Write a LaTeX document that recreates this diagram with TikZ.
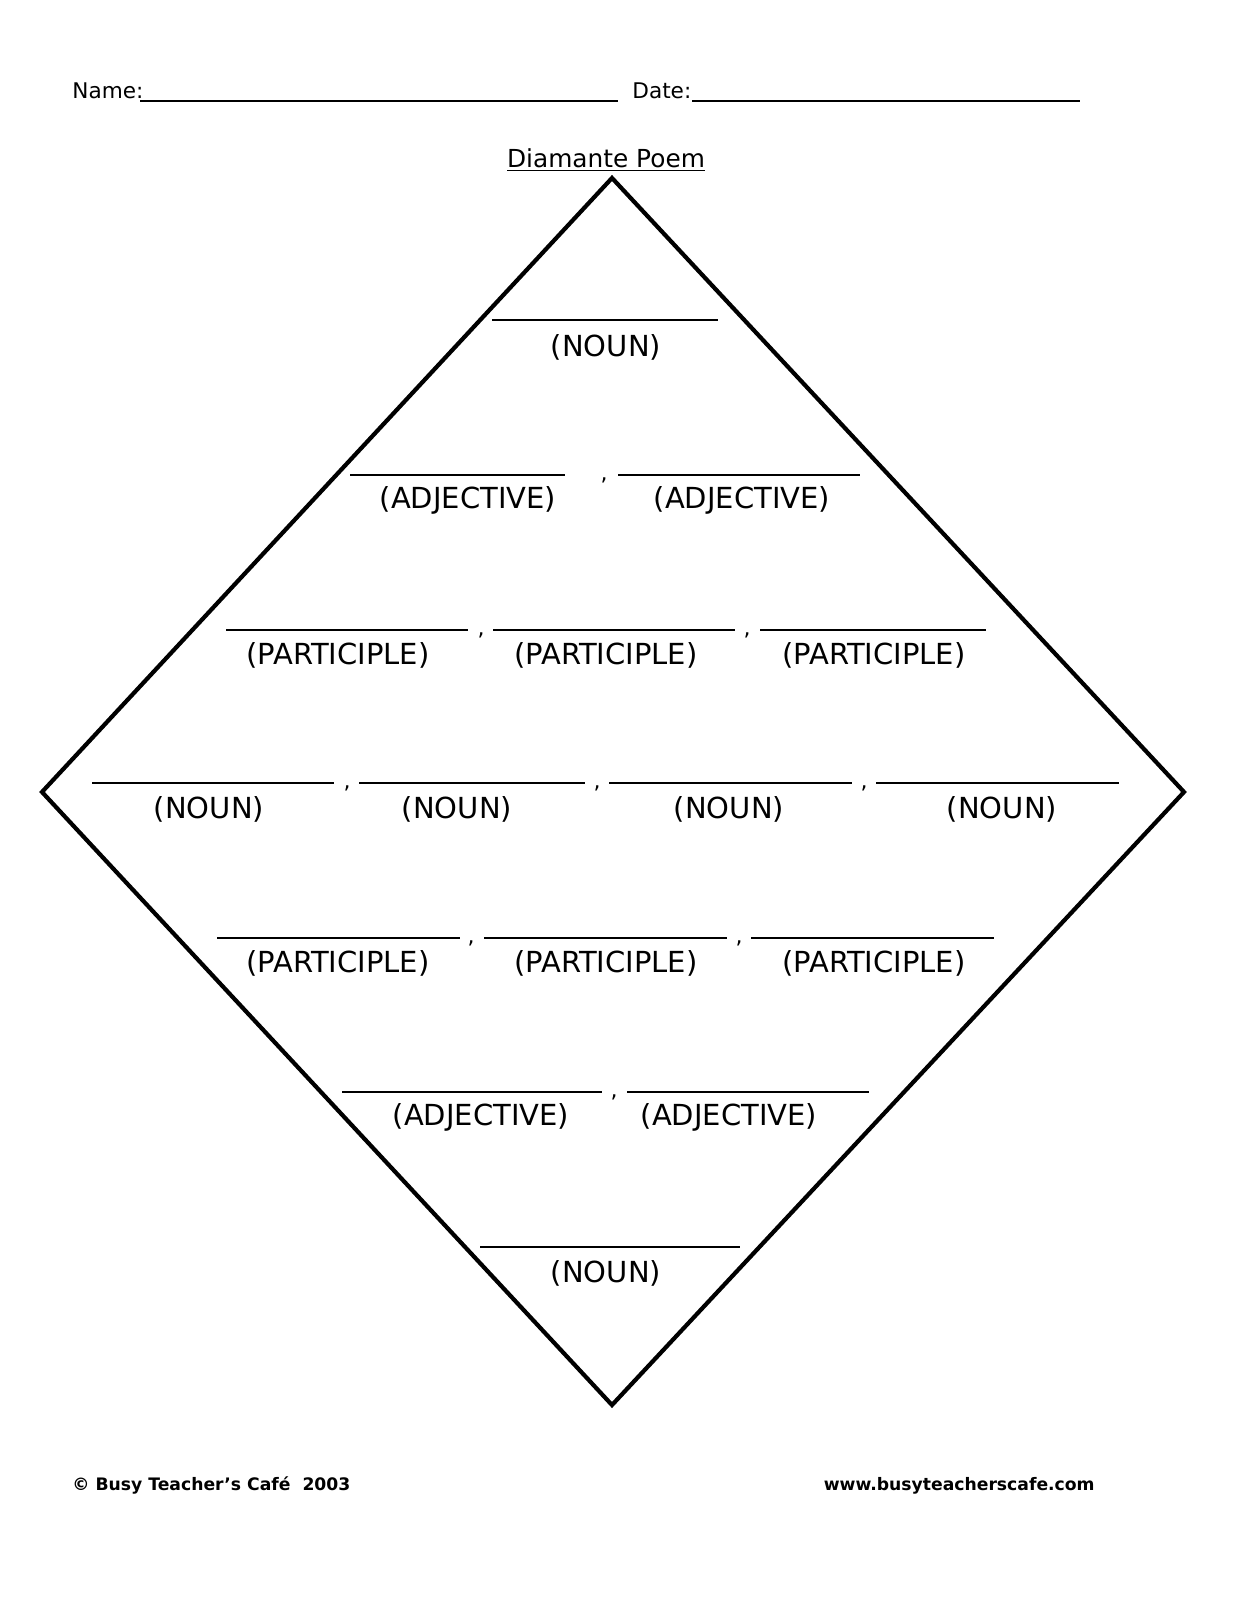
\documentclass[tikz,border=0pt]{standalone}
\usepackage{fontspec}
\setmainfont{DejaVu Sans}
\begin{document}
\begin{tikzpicture}[x=0.5pt,y=-0.5pt,
  lab/.style={font=\fontsize{14.5}{17}\selectfont},
  blank/.style={line width=0.8pt},
  comma/.style={font=\fontsize{11}{13}\selectfont,anchor=base}]
\useasboundingbox (0,0) rectangle (1236,1600);
% header
\node[anchor=base west,inner sep=0pt,font=\fontsize{10.8}{13}\selectfont] (name) at (72,98) {Name:};
\draw[blank] (140,101) -- (618,101);
\node[anchor=base west,inner sep=0pt,font=\fontsize{10.8}{13}\selectfont] (date) at (632,98) {Date:};
\draw[blank] (692,101) -- (1080,101);
\node[anchor=base,font=\fontsize{12.4}{15}\selectfont] (title) at (606,167) {\underline{Diamante Poem}};
% diamond
\draw[line width=2.1pt,line join=miter] (612,178) -- (1184,792) -- (612,1405) -- (42,792) -- cycle;
% row 1
\draw[blank] (492,320) -- (718,320);
\node[lab] (n1) at (606,347) {(NOUN)};
% row 2
\draw[blank] (350,475) -- (565,475); \node[comma] at (604,480) {,};
\draw[blank] (618,475) -- (860,475);
\node[lab] (a1) at (468,500) {(ADJECTIVE)};
\node[lab] (a2) at (742,500) {(ADJECTIVE)};
% row 3
\draw[blank] (226,630) -- (468,630); \node[comma] at (481,635) {,};
\draw[blank] (493,630) -- (735,630); \node[comma] at (747,635) {,};
\draw[blank] (760,630) -- (986,630);
\node[lab] (p1) at (338,655) {(PARTICIPLE)};
\node[lab] (p2) at (606,655) {(PARTICIPLE)};
\node[lab] (p3) at (874,655) {(PARTICIPLE)};
% row 4
\draw[blank] (92,783) -- (334,783); \node[comma] at (347,788) {,};
\draw[blank] (359,783) -- (585,783); \node[comma] at (597,788) {,};
\draw[blank] (609,783) -- (852,783); \node[comma] at (864,788) {,};
\draw[blank] (876,783) -- (1119,783);
\node[lab] (m1) at (209,809) {(NOUN)};
\node[lab] (m2) at (457,809) {(NOUN)};
\node[lab] (m3) at (729,809) {(NOUN)};
\node[lab] (m4) at (1002,809) {(NOUN)};
% row 5
\draw[blank] (217,938) -- (460,938); \node[comma] at (471,943) {,};
\draw[blank] (484,938) -- (727,938); \node[comma] at (739,943) {,};
\draw[blank] (751,938) -- (994,938);
\node[lab] (q1) at (338,963) {(PARTICIPLE)};
\node[lab] (q2) at (606,963) {(PARTICIPLE)};
\node[lab] (q3) at (874,963) {(PARTICIPLE)};
% row 6
\draw[blank] (342,1092) -- (602,1092); \node[comma] at (614,1097) {,};
\draw[blank] (627,1092) -- (869,1092);
\node[lab] (b1) at (481,1117) {(ADJECTIVE)};
\node[lab] (b2) at (729,1117) {(ADJECTIVE)};
% row 7
\draw[blank] (480,1247) -- (740,1247);
\node[lab] (n2) at (606,1273) {(NOUN)};
% footer
\node[anchor=base west,inner sep=0pt,font=\bfseries\fontsize{8.6}{11}\selectfont] (copy) at (72,1490) {© Busy Teacher’s Café\ \ 2003};
\node[anchor=base east,inner sep=0pt,font=\bfseries\fontsize{8.6}{11}\selectfont] (web) at (1095,1490) {www.busyteacherscafe.com};
\end{tikzpicture}
\end{document}
